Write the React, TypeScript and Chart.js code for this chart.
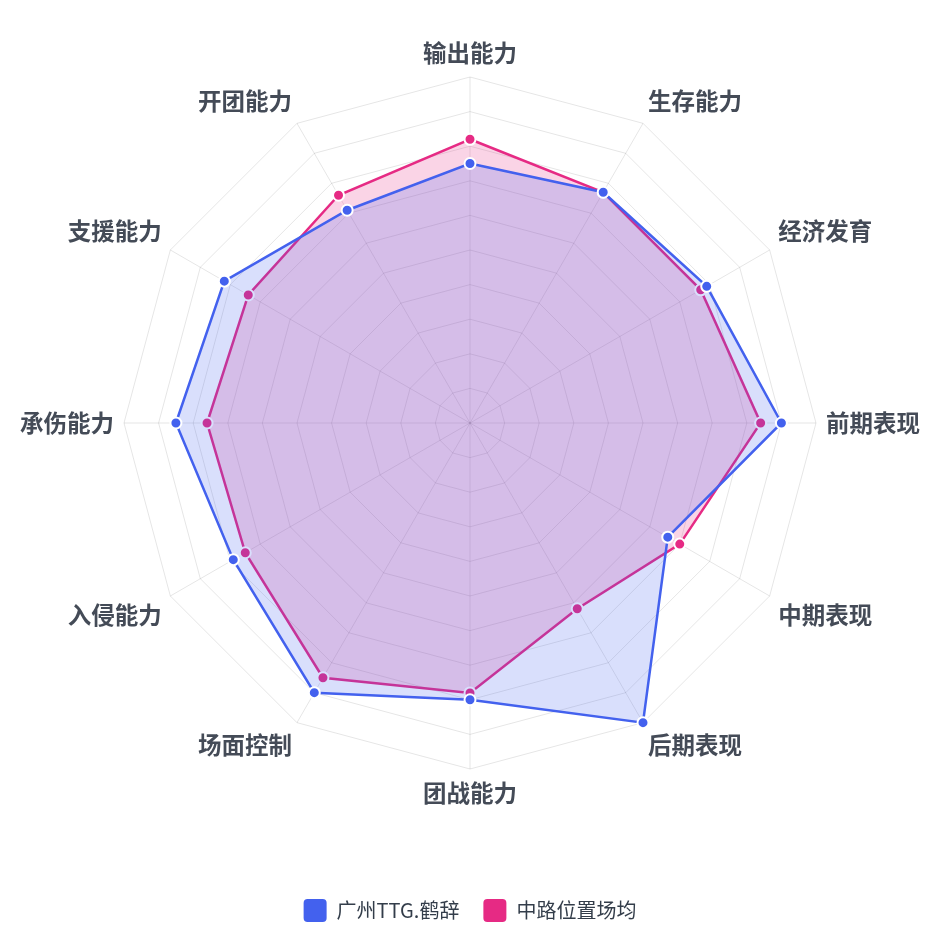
import React, { useEffect, useRef } from 'react';
import Chart from 'chart.js/auto';

const labels = [
  '输出能力', '生存能力', '经济发育', '前期表现', '中期表现', '后期表现',
  '团战能力', '场面控制', '入侵能力', '承伤能力', '支援能力', '开团能力',
];
const playerName = '广州TTG.鹤辞';
const playerValues = [75, 77, 79, 90, 66, 100, 80, 90, 79, 85, 82, 71];
const avgName = '中路位置场均';
const avgValues = [82, 77, 77, 84, 70, 62, 78, 85, 75, 76, 74, 76];

const FONT = '"Noto Sans CJK SC", "Noto Sans", sans-serif';

const App: React.FC = () => {
  const chartRef = useRef<HTMLCanvasElement>(null);

  useEffect(() => {
    if (!chartRef.current) return;
    const chart = new Chart(chartRef.current, {
      type: 'radar',
      data: {
        labels,
        datasets: [
          {
            label: playerName,
            data: playerValues,
            borderColor: '#4361ee',
            backgroundColor: 'rgba(67, 97, 238, 0.2)',
            borderWidth: 2.5,
            pointBackgroundColor: '#4361ee',
            pointBorderColor: '#ffffff',
            pointBorderWidth: 2,
            pointRadius: 5.5,
            fill: true,
          },
          {
            label: avgName,
            data: avgValues,
            borderColor: '#e62a84',
            backgroundColor: 'rgba(230, 42, 132, 0.2)',
            borderWidth: 2.5,
            pointBackgroundColor: '#e62a84',
            pointBorderColor: '#ffffff',
            pointBorderWidth: 2,
            pointRadius: 5.5,
            fill: true,
          },
        ],
      },
      options: {
        animation: false,
        responsive: true,
        maintainAspectRatio: false,
        layout: { padding: { top: 12, bottom: 0, left: 12, right: 12 } },
        plugins: {
          legend: {
            position: 'bottom',
            // empty legend title only adds room between the radar and the legend
            title: { display: true, text: ' ', font: { size: 1 }, padding: { top: 46, bottom: 0 } },
            labels: {
              color: '#333d4a',
              font: { family: FONT, size: 20 },
              boxWidth: 23,
              boxHeight: 23,
              useBorderRadius: true,
              borderRadius: 4,
              padding: 24,
              generateLabels: (c: any) =>
                Chart.defaults.plugins.legend.labels.generateLabels(c).map((it: any) => ({
                  ...it,
                  fillStyle: it.strokeStyle,
                  lineWidth: 0,
                })),
            },
          },
          tooltip: { enabled: false },
        },
        scales: {
          r: {
            min: 0,
            max: 100,
            ticks: { display: false, stepSize: 10 },
            grid: { color: 'rgba(0, 0, 0, 0.1)' },
            angleLines: { color: 'rgba(0, 0, 0, 0.1)' },
            pointLabels: {
              color: '#444b57',
              padding: 10,
              font: { family: FONT, size: 23.5, weight: 'bold' },
            },
          },
        },
      },
    });
    return () => chart.destroy();
  }, []);

  return (
    <div style={{ width: '100%', height: '924px' }}>
      <canvas ref={chartRef} />
    </div>
  );
};

export default App;
